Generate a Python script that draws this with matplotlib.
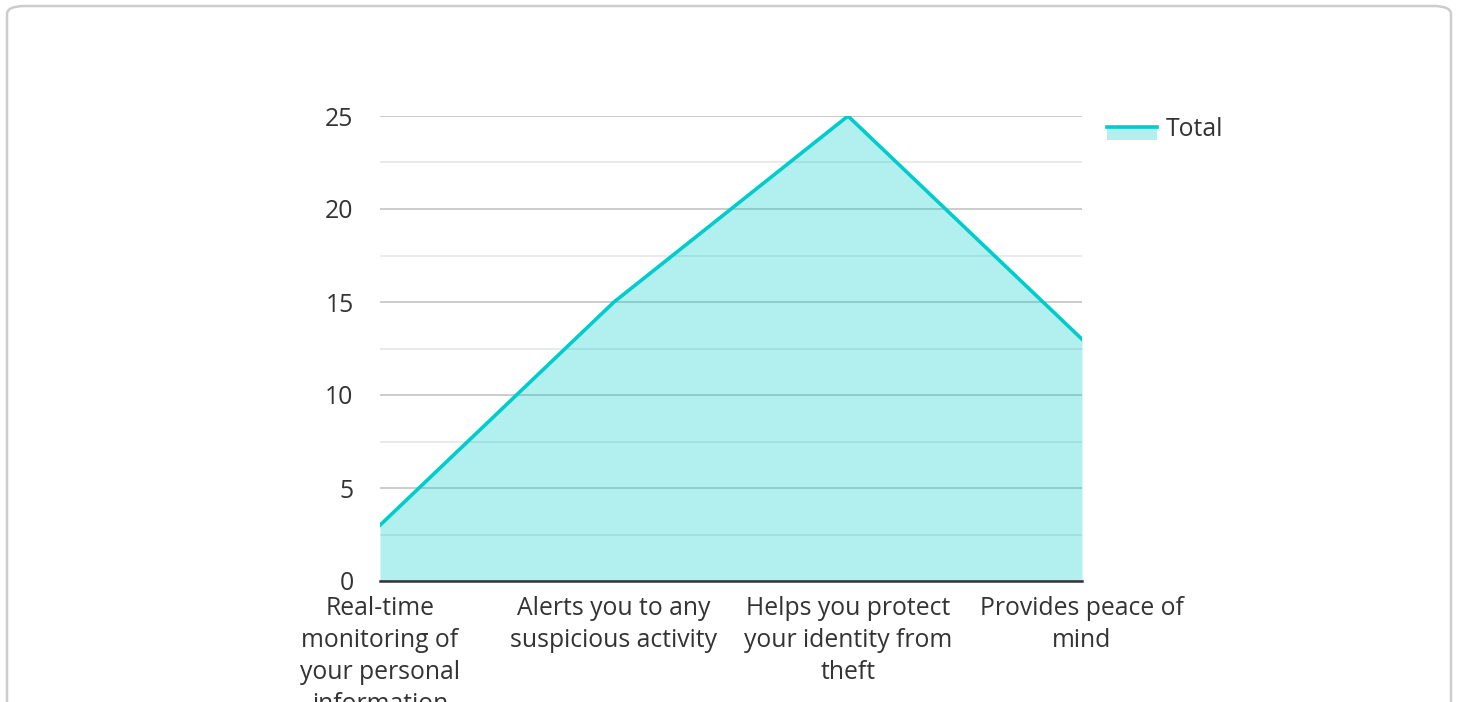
import numpy as np
import matplotlib.pyplot as plt
from matplotlib.patches import FancyBboxPatch, Rectangle
from matplotlib.lines import Line2D

plt.rcParams['font.family'] = ['Open Sans', 'DejaVu Sans']

categories = ['Real-time\nmonitoring of\nyour personal\ninformation',
              'Alerts you to any\nsuspicious activity',
              'Helps you protect\nyour identity from\ntheft',
              'Provides peace of\nmind']
totals = [3, 15, 25, 13]

line_color = '#00CCCC'
text_color = '#333333'

W, H = 1458, 702
fig = plt.figure(figsize=(W / 100, H / 100), dpi=100)

# card background, bottom edge runs past the picture
card = FancyBboxPatch((7 / W, -80 / H), 1444 / W, (702 - 6 + 80) / H,
                      boxstyle='round,pad=0,rounding_size=0.012',
                      transform=fig.transFigure, facecolor='white',
                      edgecolor='#cccccc', linewidth=1.8, zorder=0)
fig.add_artist(card)

ax = fig.add_axes([380 / W, 1 - 581 / H, 702 / W, 465 / H])
ax.set_facecolor('none')

x = np.arange(len(totals))
ax.fill_between(x, totals, 0, color=line_color, alpha=0.3, linewidth=0, zorder=2)
ax.plot(x, totals, color=line_color, linewidth=2.6, zorder=3)

ax.set_xlim(0, len(totals) - 1)
ax.set_ylim(0, 25)
ax.set_yticks([0, 5, 10, 15, 20, 25])
ax.set_yticks([2.5, 7.5, 12.5, 17.5, 22.5], minor=True)
ax.grid(axis='y', which='major', color='#c8c8c8', linewidth=1.3, zorder=1)
ax.grid(axis='y', which='minor', color='#e8e8e8', linewidth=1.3, zorder=1)
ax.set_axisbelow(True)

ax.set_xticks(x)
ax.set_xticklabels(categories, fontsize=17.8, color=text_color, linespacing=1.37)
ax.tick_params(axis='x', length=0, pad=11)
ax.tick_params(axis='y', which='both', length=0, pad=19, labelsize=17.8, labelcolor=text_color)

for side in ['left', 'right', 'top']:
    ax.spines[side].set_visible(False)
ax.spines['bottom'].set_color('#333333')
ax.spines['bottom'].set_linewidth(1.8)
ax.spines['bottom'].set_zorder(4)

# legend
fig.add_artist(Rectangle((1107 / W, 1 - 140 / H), 50 / W, 14 / H,
                         transform=fig.transFigure, facecolor=line_color,
                         alpha=0.3, edgecolor='none'))
fig.add_artist(Line2D([1107 / W, 1157 / W], [1 - 127 / H, 1 - 127 / H],
                      transform=fig.transFigure, color=line_color, linewidth=2.6))
fig.text(1166 / W, 1 - 130 / H, 'Total', fontsize=17.8, color=text_color, va='center')

fig.savefig('out.png', dpi=100)
